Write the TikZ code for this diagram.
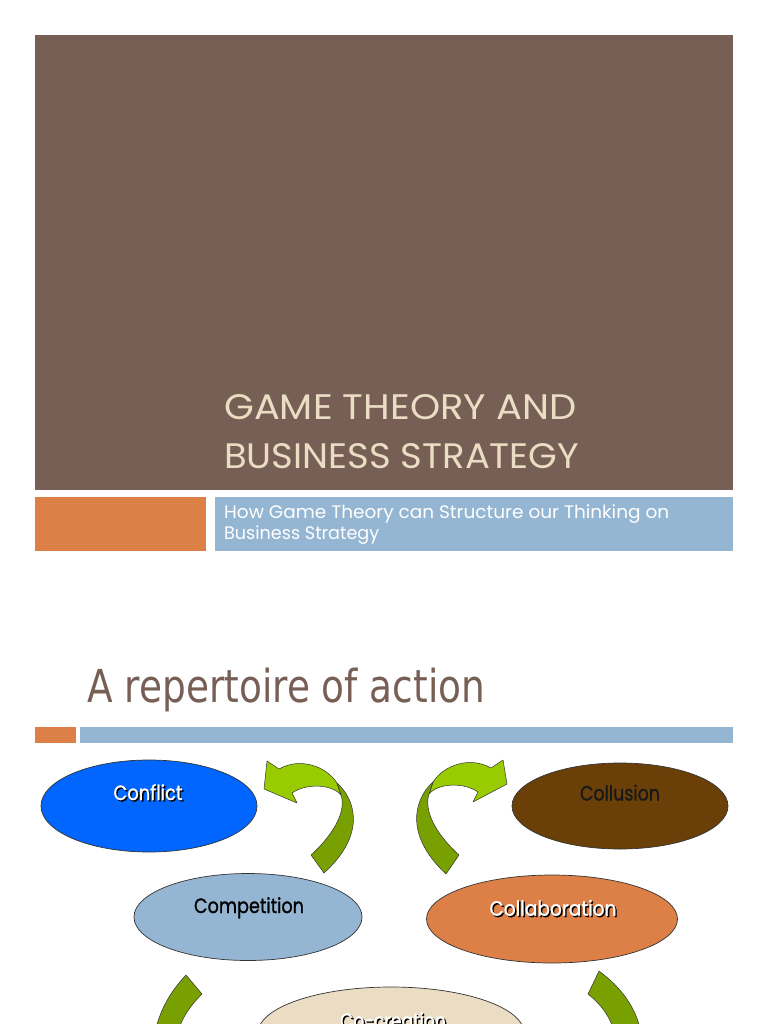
\documentclass[tikz,border=0pt]{standalone}
\usepackage{fontspec}
\usepackage{graphicx}
\usetikzlibrary{shapes.geometric}
\newfontfamily\twfont{Poppins}
\newfontfamily\lblfont[FakeBold=1.2]{Poppins}
\newfontfamily\tahfont{DejaVu Sans}
\definecolor{brownbg}{HTML}{775F55}
\definecolor{titletxt}{HTML}{EBDDC3}
\definecolor{orangec}{HTML}{DD8047}
\definecolor{bluec}{HTML}{94B6D2}
\definecolor{conflictc}{HTML}{0066FF}
\definecolor{collusionc}{HTML}{6A4008}
\definecolor{creamc}{HTML}{EBDDC3}
\definecolor{lightgreen}{HTML}{99CC00}
\definecolor{darkgreen}{HTML}{78A000}
\definecolor{outlinec}{HTML}{333333}
\tikzset{
  oval/.style={ellipse, draw=outlinec, line width=0.7pt, inner sep=0pt},
  lbl/.style={anchor=base, inner sep=0pt},
  lblshadow/.style={anchor=base, inner sep=0pt, text=black},
  arrlight/.style={fill=lightgreen, draw=outlinec, line width=0.5pt, line join=round},
  arrdark/.style={fill=darkgreen, draw=outlinec, line width=0.5pt, line join=round},
  txt/.style={anchor=base west, inner sep=0pt}
}
\begin{document}
\begin{tikzpicture}[x=1pt,y=-1pt]
\useasboundingbox (0,0) rectangle (768,1024);
\fill[white] (0,0) rectangle (768,1024);
% ---- slide 1
\fill[brownbg] (35,35) rectangle (733,490);
\fill[orangec] (35,497) rectangle (206,551);
\fill[bluec] (215,497) rectangle (733,551);
\node[txt, text=titletxt] (t1) at (224,419) {\resizebox{352pt}{25pt}{\twfont GAME THEORY AND}};
\node[txt, text=titletxt] (t2) at (224,468) {\resizebox{355pt}{25pt}{\twfont BUSINESS STRATEGY}};
\node[txt, text=white] (s1) at (224,518) {\resizebox{445pt}{13.8pt}{\twfont\vphantom{Hh}How Game Theory can Structure our Thinking on}};
\node[txt, text=white] (s2) at (224,539) {\resizebox{155pt}{13.8pt}{\twfont\vphantom{Hh}Business Strategy}};
% ---- slide 2
\node[txt, text=brownbg] (h) at (87,702) {\resizebox{398pt}{34.5pt}{\tahfont\vphantom{Afl}A repertoire of action}};
\fill[orangec] (35,727) rectangle (76,743);
\fill[bluec] (80,727) rectangle (733,743);
% ellipses
\node[oval, fill=conflictc, minimum width=216pt, minimum height=92pt] (conflict) at (149,806) {};
\node[oval, fill=collusionc, minimum width=216pt, minimum height=86pt] (collusion) at (620,806) {};
\node[oval, fill=bluec, minimum width=228pt, minimum height=87pt] (competition) at (248,917) {};
\node[oval, fill=orangec, minimum width=251pt, minimum height=88pt] (collaboration) at (552,919) {};
\begin{scope}
\clip (0,0) rectangle (768,1024);
\node[oval, fill=creamc, minimum width=266pt, minimum height=92pt] (cocreation) at (391,1033) {};
\end{scope}
% labels
\node[lblshadow] (conflictsh) at (149.4,801.4) {\resizebox{69pt}{15.8pt}{\lblfont\vphantom{Cl}Conflict}};
\node[lbl, text=white] (conflictl) at (148,800) {\resizebox{69pt}{15.8pt}{\lblfont\vphantom{Cl}Conflict}};
\node[lbl, text=black!90] (collusionl) at (620,800.5) {\resizebox{80pt}{15.8pt}{\lblfont\vphantom{Cl}Collusion}};
\node[lbl, text=black] (competitionl) at (249,913) {\resizebox{110pt}{15.8pt}{\lblfont\vphantom{Cl}Competition}};
\node[lblshadow] (collabsh) at (554.4,917.1) {\resizebox{127pt}{15.8pt}{\lblfont\vphantom{Cl}Collaboration}};
\node[lbl, text=white] (collabl) at (553,915.7) {\resizebox{127pt}{15.8pt}{\lblfont\vphantom{Cl}Collaboration}};
\begin{scope}
\clip (0,0) rectangle (768,1024);
\node[lblshadow] (cocsh) at (394.4,1029.4) {\resizebox{106pt}{15.8pt}{\lblfont\vphantom{Cl}Co-creation}};
\node[lbl, text=white] (cocl) at (393,1028) {\resizebox{106pt}{15.8pt}{\lblfont\vphantom{Cl}Co-creation}};
\end{scope}
% curved arrow, top left
\fill[arrlight] (264,789) -- (267,761) -- (279,769)
   .. controls (300,757) and (326,766) .. (337,783)
   -- (341,795)
   .. controls (332,784) and (306,783) .. (292,793)
   -- (297,803) -- cycle;
\fill[arrdark] (337,783) .. controls (356,800) and (366,835) .. (324,873)
   -- (311,855)
   .. controls (336,832) and (346,810) .. (341,795) -- cycle;
% curved arrow, top right (mirror)
\fill[arrlight] (507,784) -- (503,760) -- (491,768)
   .. controls (470,756) and (444,765) .. (433,782)
   -- (429,794)
   .. controls (438,783) and (464,782) .. (478,792)
   -- (473,802) -- cycle;
\fill[arrdark] (433,782) .. controls (414,799) and (404,835) .. (446,874)
   -- (459,855)
   .. controls (434,832) and (424,810) .. (429,794) -- cycle;
% bottom arrows
\begin{scope}
\clip (0,0) rectangle (768,1024);
\fill[arrdark] (186,975) -- (202,994)
   .. controls (191,1005) and (182,1017) .. (178,1032)
   -- (155,1032)
   .. controls (160,1010) and (170,992) .. cycle;
\fill[arrdark] (599,971) -- (588,994)
   .. controls (603,1006) and (611,1019) .. (614,1032)
   -- (641,1032)
   .. controls (636,1008) and (622,988) .. cycle;
\end{scope}
\end{tikzpicture}
\end{document}
